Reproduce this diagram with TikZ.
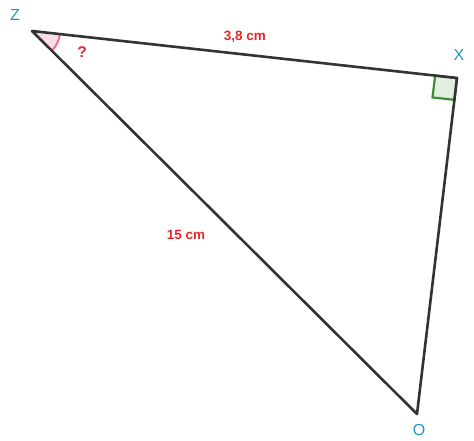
\documentclass[tikz,border=0pt]{standalone}
\usepackage{fontspec}
\setmainfont{Liberation Sans}
\usetikzlibrary{calc}
\definecolor{lblblue}{HTML}{1E96C8}
\definecolor{lblred}{HTML}{E8262A}
\definecolor{sqgreen}{HTML}{3C8C32}
\definecolor{sqfill}{HTML}{E2EEE0}
\definecolor{angpink}{HTML}{EE6E96}
\definecolor{angfill}{HTML}{FBDDE6}
\begin{document}
\begin{tikzpicture}[x=1pt,y=-1pt,
  side/.style={draw=black!80,line width=2.6pt,line join=round},
  vlabel/.style={text=lblblue,font=\fontsize{16}{16}\selectfont},
  measure/.style={text=lblred,font=\bfseries\fontsize{13.5}{14}\selectfont}]
\useasboundingbox (0,0) rectangle (474,441);
\coordinate (Z) at (32,31);
\coordinate (X) at (457,78);
\coordinate (O) at (417,414);
% right angle square
\coordinate (a) at ($(X)!22pt!(Z)$);
\coordinate (b) at ($(X)!22pt!(O)$);
\filldraw[fill=sqfill,draw=sqgreen,line width=2.2pt] (X) -- (a) -- ($(a)+(b)-(X)$) -- (b) -- cycle;
% angle at Z
\coordinate (p) at ($(Z)!28pt!(X)$);
\fill[angfill] (Z) -- (p) arc[start angle=-6.31, end angle=-44.85, radius=28pt] -- cycle;
\draw[draw=angpink,line width=2pt] (p) arc[start angle=-6.31, end angle=-44.85, radius=28pt];
\draw[side] (Z) -- (X) -- (O) -- cycle;
\node[vlabel] (lz) at (15,15) {Z};
\node[vlabel] (lx) at (459,55) {X};
\node[vlabel] (lo) at (419,430) {O};
\node[measure] (m1) at (245,37) {3,8 cm};
\node[measure] (m2) at (186,235) {15 cm};
\node[measure,font=\bfseries\fontsize{15.5}{16}\selectfont] (m3) at (82,52) {?};
\end{tikzpicture}
\end{document}
